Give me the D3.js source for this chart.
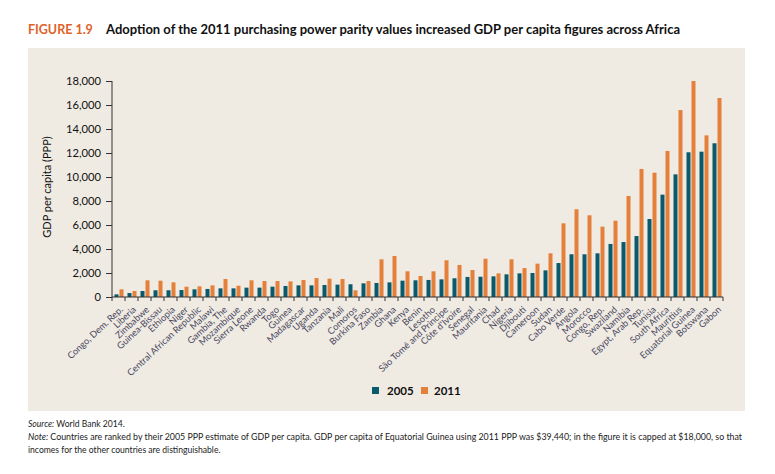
<!DOCTYPE html>
<html><head><meta charset="utf-8">
<script src="https://cdn.jsdelivr.net/npm/d3@7"></script>
<style>
html,body{margin:0;padding:0;background:#fff;}
svg{display:block;font-family:Lato,"Open Sans",sans-serif;}
</style></head>
<body>
<svg id="chart" width="775" height="474"></svg>
<script>
const countries = ["Congo, Dem. Rep.","Liberia","Zimbabwe","Guinea-Bissau","Ethiopia","Niger","Central African Republic","Malawi","Gambia, The","Mozambique","Sierra Leone","Rwanda","Togo","Guinea","Madagascar","Uganda","Tanzania","Mali","Comoros","Burkina Faso","Zambia","Ghana","Kenya","Benin","Lesotho","São Tomé and Principe","Côte d'Ivoire","Senegal","Mauritania","Chad","Nigeria","Djibouti","Cameroon","Sudan","Cabo Verde","Angola","Morocco","Congo, Rep.","Swaziland","Namibia","Egypt, Arab Rep.","Tunisia","South Africa","Mauritius","Equatorial Guinea","Botswana","Gabon"];
const gdp2005 = [220,330,500,560,560,580,640,670,720,720,780,780,860,920,970,970,1000,1030,1060,1140,1170,1220,1360,1390,1420,1470,1560,1670,1690,1720,1890,1970,2000,2220,2830,3560,3560,3640,4420,4580,5080,6500,8530,10220,12060,12110,12810];
const gdp2011 = [640,500,1390,1360,1220,860,890,970,1500,940,1390,1330,1330,1300,1420,1580,1530,1500,560,1330,3140,3420,2140,1750,2140,3060,2670,2250,3190,1970,3140,2410,2780,3640,6140,7310,6810,5860,6360,8420,10670,10360,12170,15580,18000,13470,16580];
const yTicks = [0,2000,4000,6000,8000,10000,12000,14000,16000,18000];
const seriesNames = ["2005","2011"];
const colors = ["#0a5a6e","#e5803a"];

const svg = d3.select("#chart");
// panel
svg.append("rect").attr("x",28).attr("y",48).attr("width",717).attr("height",363).attr("fill","#efebe3");

// title
const title = svg.append("text").attr("x",28).attr("y",34).attr("font-weight","bold").attr("font-size",12.5);
title.append("tspan").attr("fill","#e0622a").text("FIGURE 1.9");
svg.append("text").attr("x",106).attr("y",34).attr("font-weight","bold").attr("font-size",12.5).attr("fill","#111")
  .attr("textLength",574).attr("lengthAdjust","spacingAndGlyphs")
  .text("Adoption of the 2011 purchasing power parity values increased GDP per capita figures across Africa");

const x = d3.scaleBand().domain(countries).range([112,723]).paddingInner(0).paddingOuter(0);
const y = d3.scaleLinear().domain([0,18000]).range([297,81]);

// bars
const bw = 4;
const g = svg.append("g");
countries.forEach((c,i)=>{
  const x0 = x(c);
  [gdp2005[i],gdp2011[i]].forEach((v,s)=>{
    g.append("rect")
      .attr("x", x0 + 2.5 + s*5)
      .attr("y", y(v))
      .attr("width", bw)
      .attr("height", y(0)-y(v))
      .attr("fill", colors[s]);
  });
});

// y axis
const yAxis = d3.axisLeft(y).tickValues(yTicks).tickSize(6).tickPadding(5).tickFormat(d3.format(","));
const ya = svg.append("g").attr("transform","translate(112,0)").call(yAxis);
ya.select(".domain").attr("stroke","#333").attr("d","M0,81V297");
ya.selectAll(".tick line").attr("stroke","#333");
ya.selectAll(".tick text").attr("font-size",11.2).attr("fill","#111").attr("font-family","Lato,sans-serif");

// x axis
const xa = svg.append("g").attr("transform","translate(0,297)");
xa.append("line").attr("x1",112).attr("x2",723).attr("stroke","#333").attr("stroke-width",1);
const bounds = countries.map(c=>x(c)).concat([x.range()[1]]);
xa.selectAll("line.tk").data(bounds).enter().append("line").attr("class","tk")
  .attr("x1",d=>d).attr("x2",d=>d).attr("y1",0).attr("y2",4).attr("stroke","#333");
xa.selectAll("text").data(countries).enter().append("text")
  .attr("transform",d=>`translate(${x(d)+x.bandwidth()/2+3},11) rotate(-43)`)
  .attr("text-anchor","end").attr("dy","0.35em")
  .attr("font-size",9.2).attr("fill","#4a4860")
  .text(d=>d);

// y label
svg.append("text").attr("transform","translate(51,187) rotate(-90)").attr("text-anchor","middle")
  .attr("font-size",11).attr("fill","#111").text("GDP per capita (PPP)");

// legend
const lg = svg.append("g");
[[372,387],[421,434]].forEach((p,i)=>{
  lg.append("rect").attr("x",p[0]).attr("y",387).attr("width",7).attr("height",7).attr("fill",colors[i]);
  lg.append("text").attr("x",p[1]).attr("y",395).attr("font-size",11.5).attr("font-weight","bold").attr("fill","#111").text(seriesNames[i]);
});

// footnotes
const f1 = svg.append("text").attr("x",28).attr("y",427).attr("font-size",8.6).attr("fill","#222");
f1.append("tspan").attr("font-style","italic").text("Source:");
f1.append("tspan").text(" World Bank 2014.");
const f2 = svg.append("text").attr("x",28).attr("y",440).attr("font-size",8.6).attr("fill","#222")
  .attr("textLength",714).attr("lengthAdjust","spacingAndGlyphs");
f2.append("tspan").attr("font-style","italic").text("Note:");
f2.append("tspan").text(" Countries are ranked by their 2005 PPP estimate of GDP per capita. GDP per capita of Equatorial Guinea using 2011 PPP was $39,440; in the figure it is capped at $18,000, so that");
svg.append("text").attr("x",28).attr("y",453).attr("font-size",8.6).attr("fill","#222")
  .text("incomes for the other countries are distinguishable.");
</script>
</body></html>
